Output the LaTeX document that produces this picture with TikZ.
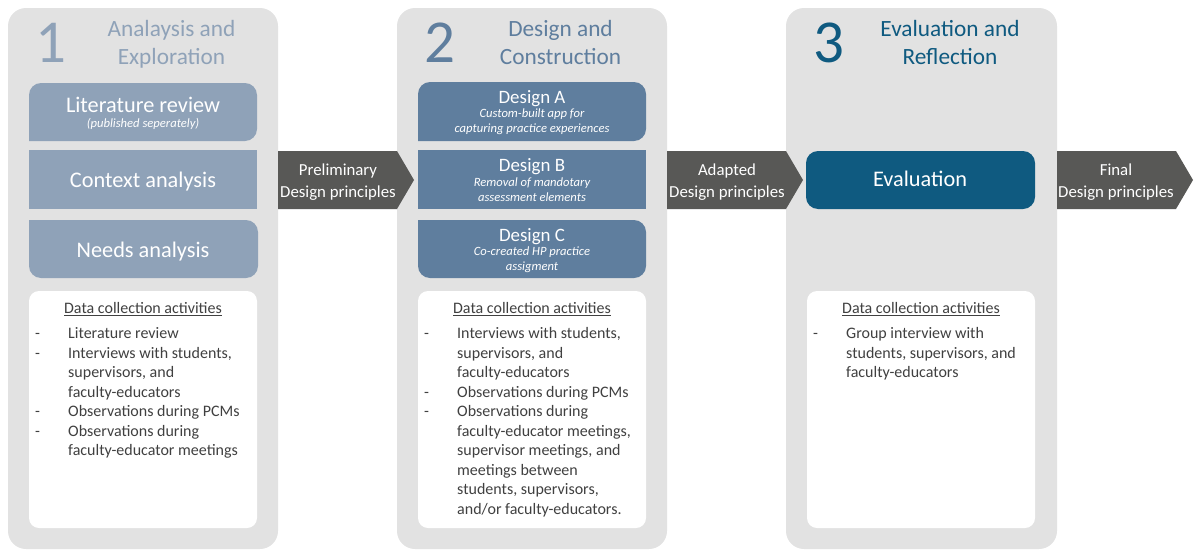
\documentclass[tikz,border=0pt]{standalone}
\usepackage{fontspec}
\setmainfont{Carlito}
\usetikzlibrary{calc}
\definecolor{panelgray}{HTML}{E2E2E2}
\definecolor{cone}{HTML}{8FA2B8}
\definecolor{ctwo}{HTML}{5F7E9E}
\definecolor{cthree}{HTML}{0F5A80}
\definecolor{arrowgray}{HTML}{585856}
\definecolor{txtgray}{HTML}{404040}
\newcommand{\fs}[1]{\fontsize{#1}{#1}\selectfont}
\newcommand{\listrows}[1]{\begin{tabular}{@{}p{33pt}@{}l@{}}#1\end{tabular}}
\tikzset{
  x=1pt,y=-1pt,
  panel/.style={fill=panelgray,rounded corners=18pt},
  whitebox/.style={fill=white,rounded corners=10pt},
  numtxt/.style={font=\fs{61},anchor=center},
  titletxt/.style={font=\fontsize{23.3}{28}\selectfont,align=center,anchor=center},
  headtxt/.style={font=\fs{22.3},text=white,align=center,anchor=center},
  subtxt/.style={font=\fontsize{12.6}{15.3}\selectfont\itshape,text=white,align=center,anchor=center},
  desgntxt/.style={font=\fs{18.9},text=white,anchor=center},
  arrowtxt/.style={font=\fontsize{16.8}{22.3}\selectfont,text=white,align=center,anchor=center},
  datahead/.style={font=\fs{16},text=txtgray,anchor=center},
  datalist/.style={font=\fontsize{16}{19.5}\selectfont,text=txtgray,anchor=north west,inner sep=0pt},
}
\begin{document}
\begin{tikzpicture}
\useasboundingbox (0,0) rectangle (1200,557);
% panels
\fill[panel] (8,8) rectangle (278,549);
\fill[panel] (397,8) rectangle (667,549);
\fill[panel] (786,8) rectangle (1057,549);
% titles
\node[numtxt,text=cone] (n1) at (51,43) {1};
\node[titletxt,text=cone] (t1) at (171.5,44) {Analaysis and\\Exploration};
\node[numtxt,text=ctwo] (n2) at (440,43) {2};
\node[titletxt,text=ctwo] (t2) at (560.5,42) {Design and\\Construction};
\node[numtxt,text=cthree] (n3) at (829,43) {3};
\node[titletxt,text=cthree] (t3) at (950,42) {Evaluation and\\Reflection};
% panel 1 boxes
\fill[cone,rounded corners=12pt] (29,141) -- (29,83) -- (257,83) -- (257,141) [sharp corners] -- cycle;
\fill[cone] (29,150) rectangle (257,209);
\fill[cone,rounded corners=12pt] (29,220) -- (29,278) -- (258,278) -- (258,220) [sharp corners] -- cycle;
\node[headtxt] (a1) at (143,105) {Literature review};
\node[subtxt] (a1s) at (143,124) {(published seperately)};
\node[headtxt] (a2) at (143,182) {Context analysis};
\node[headtxt] (a3) at (143,252) {Needs analysis};
% panel 2 boxes
\fill[ctwo,rounded corners=12pt] (418,141) -- (418,82) -- (646,82) -- (646,141) [sharp corners] -- cycle;
\fill[ctwo] (418,150) rectangle (646,209);
\fill[ctwo,rounded corners=12pt] (418,220) -- (418,278) -- (646,278) -- (646,220) [sharp corners] -- cycle;
\node[desgntxt] (b1) at (532,99) {Design A};
\node[subtxt] (b1s) at (532,122) {Custom-built app for\\capturing practice experiences};
\node[desgntxt] (b2) at (532,167) {Design B};
\node[subtxt] (b2s) at (532,189.5) {Removal of mandotary\\assessment elements};
\node[desgntxt] (b3) at (532,237) {Design C};
\node[subtxt] (b3s) at (532,260) {Co-created HP practice\\assigment};
% evaluation
\fill[cthree,rounded corners=12pt] (806,151) rectangle (1035,209);
\node[headtxt] (c1) at (920,179) {Evaluation};
% arrows
\foreach \xa in {278,667,1057}{
  \fill[arrowgray] (\xa,151) -- ($(\xa,151)+(119,0)$) -- ($(\xa,180)+(136,0)$) -- ($(\xa,209)+(119,0)$) -- (\xa,209) -- cycle;
}
\node[arrowtxt] (p1) at (338,182) {Preliminary\\Design principles};
\node[arrowtxt] (p2) at (727,182) {Adapted\\Design principles};
\node[arrowtxt] (p3) at (1116,182) {Final\\Design principles};
% white boxes
\fill[whitebox] (29,291) rectangle (257,528);
\fill[whitebox] (418,291) rectangle (646,528);
\fill[whitebox] (807,291) rectangle (1035,528);
\node[datahead] (d1) at (143,309) {\underline{Data collection activities}};
\node[datahead] (d2) at (532,309) {\underline{Data collection activities}};
\node[datahead] (d3) at (921,309) {\underline{Data collection activities}};
\node[datalist] (l1) at (35,325) {\listrows{
-&Literature review\\
-&Interviews with students,\\
&supervisors, and\\
&faculty-educators\\
-&Observations during PCMs\\
-&Observations during\\
&faculty-educator meetings}};
\node[datalist] (l2) at (424,325) {\listrows{
-&Interviews with students,\\
&supervisors, and\\
&faculty-educators\\
-&Observations during PCMs\\
-&Observations during\\
&faculty-educator meetings,\\
&supervisor meetings, and\\
&meetings between\\
&students, supervisors,\\
&and/or faculty-educators.}};
\node[datalist] (l3) at (813,325) {\listrows{
-&Group interview with\\
&students, supervisors, and\\
&faculty-educators}};
\end{tikzpicture}
\end{document}
